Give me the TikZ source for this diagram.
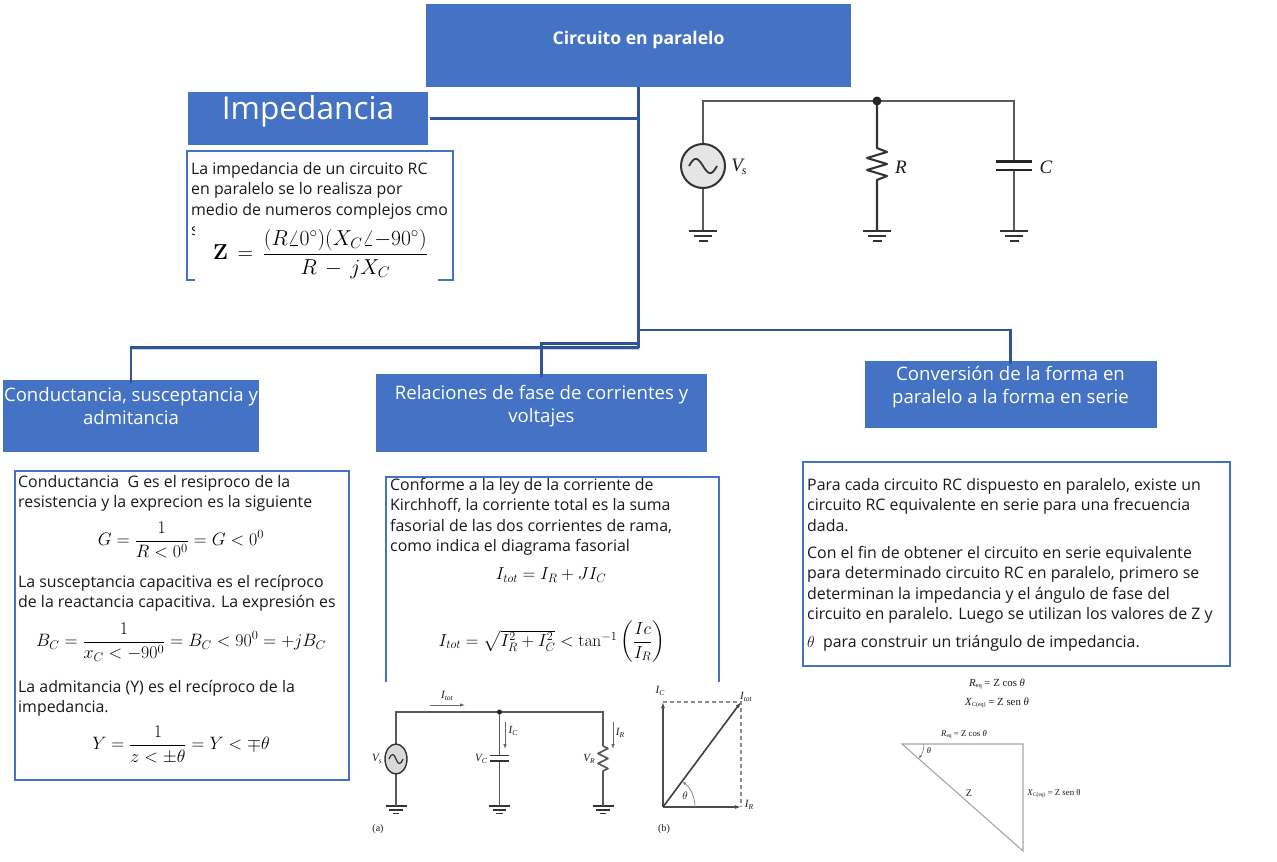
\RequirePackage{fix-cm}
\documentclass[tikz,border=0pt]{standalone}
\usepackage{amsmath}
\usepackage[no-math]{fontspec}
\setmainfont{Open Sans}
\newfontfamily\serifa{Liberation Serif}
\usetikzlibrary{arrows,arrows.meta,positioning}
\definecolor{azul}{HTML}{4472C4}
\definecolor{azuloscuro}{HTML}{2F5597}
\definecolor{azulclaro}{HTML}{C5D2EA}
\definecolor{tinta}{HTML}{1A1A1A}
\definecolor{alambre}{HTML}{5A5A5A}
\begin{document}
\begin{tikzpicture}[x=1pt,y=-1pt,
    caja/.style={fill=azul,inner sep=0pt,outer sep=0pt},
    titulo/.style={text=white,align=center,inner sep=0pt,font=\fontsize{18.6}{23.5}\selectfont},
    cuerpo/.style={text=tinta,align=left,anchor=north west,inner sep=0pt,font=\fontsize{15.9}{20.4}\selectfont},
    formula/.style={text=black,inner sep=0pt,font=\fontsize{17.9}{22}\selectfont},
    borde/.style={draw=azul,line width=2.1pt},
    conector/.style={draw=azuloscuro,line width=2.1pt},
    sombra/.style={draw=azulclaro,line width=1pt},
    alam/.style={draw=alambre,line width=1.8pt},
    alamb/.style={draw=black!65,line width=1.1pt},
    flecha/.style={-{Latex[length=5pt,width=3.5pt]},black!60,line width=.8pt},
    tag/.style={text=tinta,inner sep=0pt,font=\fontsize{11}{13}\serifa\itshape},
    tagchico/.style={text=tinta,inner sep=0pt,font=\fontsize{8.8}{10}\serifa}]
  \useasboundingbox (0,0) rectangle (1277,862);
  \fill[white] (0,0) rectangle (1277,862);

  \node (circuito) [caja,minimum width=425pt,minimum height=83pt] at (638.5,45.5) {};
  \node (circuitotxt) [titulo,font=\fontsize{17.6}{20}\selectfont\bfseries] at (638.5,39.5) {Circuito en paralelo};
  \node (impedancia) [caja,minimum width=240pt,minimum height=53pt] at (308,118.5) {};
  \node (impedanciatxt) [titulo,font=\fontsize{31.6}{34}\selectfont] at (308,111.5) {Impedancia};
  \node (conductancia) [caja,minimum width=256pt,minimum height=72pt] at (131,416) {};
  \node (conductanciatxt) [titulo] at (131,406) {Conductancia, susceptancia y\\admitancia};
  \node (relaciones) [caja,minimum width=331pt,minimum height=78pt] at (541.5,413) {};
  \node (relacionestxt) [titulo] at (541.5,406) {Relaciones de fase de corrientes y\\voltajes};
  \node (conversion) [caja,minimum width=292pt,minimum height=67pt] at (1010.5,394.5) {};
  \node (conversiontxt) [titulo] at (1010.5,387) {Conversión de la forma en\\paralelo a la forma en serie};

  \coordinate (rama1) at (638.5,118.5);
  \coordinate (rama2) at (638.5,347.5);
  \coordinate (rama3) at (638.5,343.5);
  \coordinate (rama4) at (638.5,330);
  \draw[sombra] (131,349.5) -- (640,349.5);
  \draw[conector] (circuito.south) -- (rama2);
  \draw[conector] (impedancia.east) ++(2,0) -- (rama1);
  \draw[conector] (rama2) -| ([yshift=-3pt]conductancia.north);
  \draw[conector] (rama3) -| ([yshift=-3pt]relaciones.north);
  \draw[conector] (rama4) -| ([yshift=-3pt]conversion.north);

  \draw[borde] (187,151) rectangle (453,280);
  \node (imptxt) [cuerpo] at (191,162) {La impedancia de un circuito RC\\en paralelo se lo realisza por\\medio de numeros complejos cmo\\s};
  \node (impform) [formula,fill=white,minimum width=243pt,minimum height=58pt] at (316.5,253) {};
  \node (impformtxt) [formula,font=\fontsize{21.6}{26}\selectfont] at (320.5,254) {$\mathbf{Z}\,=\,\dfrac{(R\angle 0^\circ)(X_C\angle{-90^\circ})}{R\,-\,jX_C}$};

  \draw[borde] (15,471) rectangle (349,780);
  \node (condtxt1) [cuerpo] at (18,475) {Conductancia\ \ G es el resiproco de la\\resistencia y la exprecion es la siguiente};
  \node (condform1) [formula] at (181,540) {$G=\dfrac{1}{R<0^0}=G<0^0$};
  \node (condtxt2) [cuerpo] at (18,575) {La susceptancia capacitiva es el recíproco\\de la reactancia capacitiva. La expresión es};
  \node (condform2) [formula] at (181,642) {$B_C=\dfrac{1}{x_C<-90^0}=B_C<90^0=+jB_C$};
  \node (condtxt3) [cuerpo] at (18,680) {La admitancia (Y) es el recíproco de la\\impedancia.};
  \node (condform3) [formula] at (181,745) {$Y=\dfrac{1}{z<\pm\theta}=Y<\mp\theta$};

  \draw[borde] (386,682) |- (719,477) -- (719,682);
  \node (reltxt) [cuerpo] at (390,478) {Conforme a la ley de la corriente de\\Kirchhoff, la corriente total es la suma\\fasorial de las dos corrientes de rama,\\como indica el diagrama fasorial};
  \node (relform1) [formula,font=\fontsize{17.4}{20}\selectfont] at (551,575) {$I_{tot}=I_R+JI_C$};
  \node (relform2) [formula,font=\fontsize{17.4}{20}\selectfont] at (552,642) {$I_{tot}=\sqrt{I_R^2+I_C^2}<\tan^{-1}\left(\dfrac{Ic}{I_R}\right)$};

  \draw[borde] (803,462) rectangle (1230,666);
  \node (contxt1) [cuerpo] at (807,478) {Para cada circuito RC dispuesto en paralelo, existe un\\circuito RC equivalente en serie para una frecuencia\\dada.};
  \node (contxt2) [cuerpo] at (807,546) {Con el fin de obtener el circuito en serie equivalente\\para determinado circuito RC en paralelo, primero se\\determinan la impedancia y el ángulo de fase del\\circuito en paralelo. Luego se utilizan los valores de Z y};
  \node (contxt3) [cuerpo] at (807,635) {$\theta$\ \ para construir un triángulo de impedancia.};

  \draw[alam] (703,144) -- (703,101) -- (1014,101) -- (1014,161);
  \draw[alam] (1014,170) -- (1014,231);
  \draw[alam] (703,188) -- (703,231);
  \draw[alam,draw=black!80,line width=2.1pt,line join=round] (877,101) -- (877,148) -- ++(10,4) -- ++(-20,6) -- ++(20,6) -- ++(-20,6) -- ++(20,6) -- ++(-10,4) -- (877,231);
  \node (nodo1) [circle,fill=black!85,inner sep=0pt,minimum size=9pt] at (877,101) {};
  \node (fuente1) [circle,draw=black!80,line width=2pt,fill=black!10,inner sep=0pt,minimum size=44pt] at (703,166) {};
  \draw[line width=1.8pt,black!80] (689,166) .. controls (695,155) and (698,158) .. (703,166) .. controls (708,174) and (711,177) .. (717,166);
  \draw[line width=2.4pt,black!85] (996,161.5) -- (1032,161.5) (996,170) -- (1032,170);
  \foreach \gx/\gy/\gs in {703/231/1,877/231/1,1014/231/1,396/806/.75,499.5/806/.75,603/806/.75} {
    \draw[line width=2pt,black!80] (\gx-14*\gs,\gy) -- (\gx+14*\gs,\gy);
    \draw[line width=1.8pt,black!80] (\gx-9*\gs,\gy+5*\gs) -- (\gx+9*\gs,\gy+5*\gs);
    \draw[line width=1.8pt,black!80] (\gx-4.5*\gs,\gy+10*\gs) -- (\gx+4.5*\gs,\gy+10*\gs);
  }
  \node (vs1) [tag,font=\fontsize{19}{22}\serifa\itshape] at (739,167) {V\kern-1pt\raisebox{-3pt}{\fontsize{12}{12}\selectfont s}};
  \node (r1) [tag,font=\fontsize{19}{22}\serifa\itshape] at (901,167) {R};
  \node (c1) [tag,font=\fontsize{19}{22}\serifa\itshape] at (1046,167) {C};

  \draw[alamb] (396,744) -- (396,712) -- (603,712) -- (603,746);
  \draw[alamb] (396,774) -- (396,806);
  \draw[alamb] (499.5,712) -- (499.5,755.5) (499.5,761) -- (499.5,806);
  \draw[alamb,line width=1.6pt,line join=round] (603,746) -- ++(5,2.5) -- ++(-10,5) -- ++(10,5) -- ++(-10,5) -- ++(10,5) -- ++(-5,2.5) -- (603,806);
  \node (nodo2) [circle,fill=black!85,inner sep=0pt,minimum size=5pt] at (499.5,712) {};
  \filldraw[draw=black!80,fill=black!15,line width=1.4pt] (396,759) ellipse (11pt and 15pt);
  \draw[line width=1.2pt,black!80] (389,759) .. controls (392,752) and (394,754) .. (396,759) .. controls (398,764) and (400,766) .. (403,759);
  \draw[line width=1.7pt,black!80] (490,755.5) -- (509,755.5) (490,761) -- (509,761);
  \draw[flecha] (430,705) -- (465,705);
  \draw[flecha] (505,722) -- (505,749);
  \draw[flecha] (613,722) -- (613,749);
  \node (itot1) [tag] at (447,696) {I\raisebox{-1.5pt}{\fontsize{7.5}{8}\selectfont tot}};
  \node (ic1) [tag] at (513,731) {I\raisebox{-1.5pt}{\fontsize{7.5}{8}\selectfont C}};
  \node (ir1) [tag] at (620,733) {I\raisebox{-1.5pt}{\fontsize{7.5}{8}\selectfont R}};
  \node (vs2) [tag] at (377,759) {V\raisebox{-1.5pt}{\fontsize{7.5}{8}\selectfont s}};
  \node (vc2) [tag] at (481,759) {V\raisebox{-1.5pt}{\fontsize{7.5}{8}\selectfont C}};
  \node (vr2) [tag] at (589,759) {V\raisebox{-1.5pt}{\fontsize{7.5}{8}\selectfont R}};
  \node (a) [tagchico,font=\fontsize{10}{12}\serifa] at (378,829) {(a)};
  \node (b) [tagchico,font=\fontsize{10}{12}\serifa] at (664,829) {(b)};

  \draw[-{Latex[length=6pt,width=4pt]},black!70,line width=1.4pt] (663,807) -- (663,702);
  \draw[-{Latex[length=6pt,width=4pt]},black!70,line width=1.4pt] (663,807) -- (741,807);
  \draw[-{Latex[length=6pt,width=4pt]},black!75,line width=1.6pt] (663,807) -- (741,702);
  \draw[black!45,line width=1.3pt,dash pattern=on 4pt off 3pt] (663,702) -- (741,702) -- (741,807);
  \draw[-{Latex[length=4pt,width=3pt]},black!50,line width=.7pt] (695,807) arc[start angle=0,end angle=53,radius=32pt];
  \node (theta1) [tag] at (685,796) {$\theta$};
  \node (ic2) [tag] at (660,691) {I\raisebox{-1.5pt}{\fontsize{7.5}{8}\selectfont C}};
  \node (itot2) [tag] at (746,697) {I\raisebox{-1.5pt}{\fontsize{7.5}{8}\selectfont tot}};
  \node (ir2) [tag] at (749,805) {I\raisebox{-1.5pt}{\fontsize{7.5}{8}\selectfont R}};

  \node (req1) [tagchico,font=\fontsize{10.8}{12}\serifa] at (997,684) {\textit{R}\raisebox{-1.5pt}{\fontsize{6.5}{7}\selectfont eq} = Z cos \textit{θ}};
  \node (xc1) [tagchico,font=\fontsize{10.8}{12}\serifa] at (997,703) {\textit{X}\raisebox{-1.5pt}{\fontsize{6}{7}\selectfont C(eq)} = Z sen \textit{θ}};
  \draw[black!35,line width=1.1pt] (902,744) -- (1023,744) -- (1023,851) -- cycle;
  \draw[-{Latex[length=3pt,width=2.5pt]},black!60,line width=.5pt] (924,744) arc[start angle=0,end angle=-40,radius=22pt];
  \node (theta2) [tagchico,font=\fontsize{8.5}{10}\serifa\itshape] at (929,751) {θ};
  \node (req2) [tagchico] at (964,735) {\textit{R}\raisebox{-1pt}{\fontsize{5.5}{6}\selectfont eq} = Z cos \textit{θ}};
  \node (z) [tagchico,font=\fontsize{10}{12}\serifa] at (969,793) {Z};
  \node (xc2) [tagchico] at (1054,793) {\textit{X}\raisebox{-1pt}{\fontsize{5.5}{6}\selectfont C(eq)} = Z sen θ};
\end{tikzpicture}
\end{document}
